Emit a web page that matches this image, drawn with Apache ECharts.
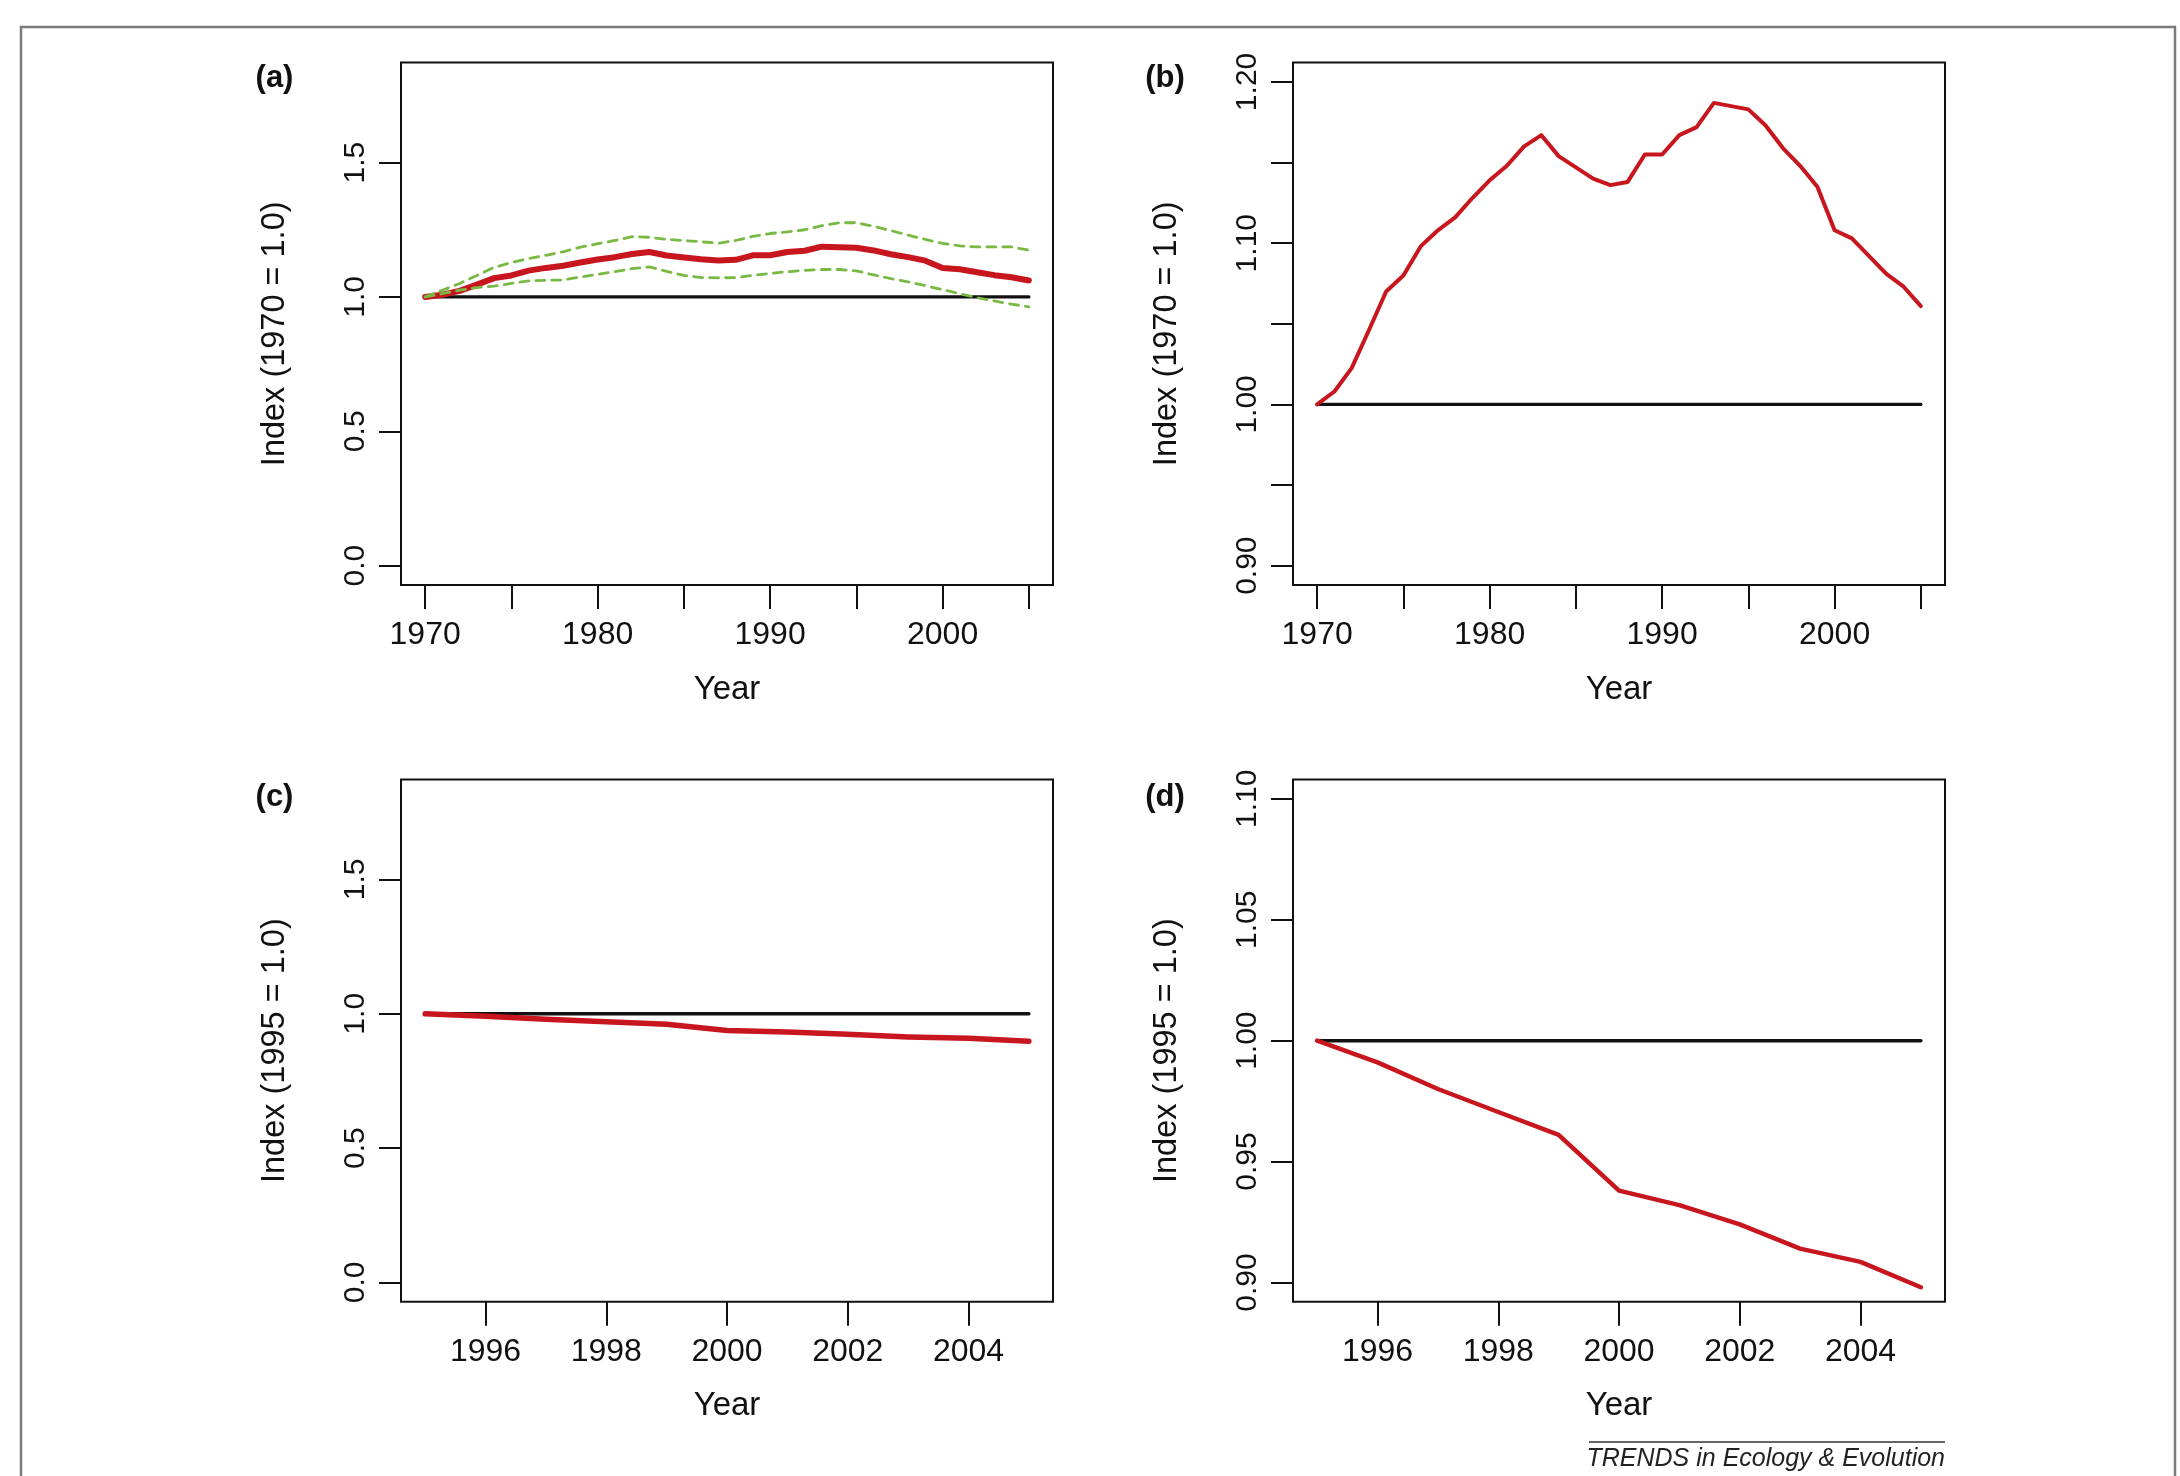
<!DOCTYPE html>
<html><head><meta charset="utf-8">
<script src="https://cdn.jsdelivr.net/npm/echarts@6/dist/echarts.min.js"></script>
<style>html,body{margin:0;padding:0;background:#fff}#c{width:2180px;height:1476px}</style>
</head><body><div id="c"></div>
<script>
// ---------------- data ----------------
const yearsLong = [1970,1971,1972,1973,1974,1975,1976,1977,1978,1979,1980,1981,1982,1983,1984,1985,1986,1987,1988,1989,1990,1991,1992,1993,1994,1995,1996,1997,1998,1999,2000,2001,2002,2003,2004,2005];
const indexLong = [1.000,1.008,1.0225,1.046,1.070,1.080,1.098,1.108,1.116,1.128,1.139,1.148,1.160,1.167,1.154,1.147,1.140,1.136,1.138,1.155,1.155,1.167,1.172,1.187,1.185,1.183,1.173,1.159,1.148,1.135,1.108,1.103,1.092,1.081,1.073,1.061];
const upperLong = [1.000,1.025,1.050,1.080,1.110,1.128,1.143,1.155,1.168,1.185,1.198,1.210,1.224,1.222,1.214,1.210,1.205,1.200,1.210,1.225,1.236,1.242,1.250,1.265,1.276,1.276,1.263,1.247,1.230,1.214,1.199,1.190,1.186,1.186,1.186,1.174];
const lowerLong = [1.000,1.012,1.025,1.035,1.040,1.050,1.060,1.062,1.063,1.074,1.084,1.094,1.105,1.112,1.095,1.080,1.072,1.071,1.072,1.080,1.087,1.094,1.099,1.102,1.102,1.097,1.082,1.068,1.056,1.042,1.027,1.012,0.997,0.985,0.973,0.963];
const yearsShort = [1995,1996,1997,1998,1999,2000,2001,2002,2003,2004,2005];
const indexShort = [1.000,0.991,0.980,0.9705,0.961,0.938,0.932,0.924,0.914,0.9085,0.898];
const baseline = 1.0;

// tick labels
const xTicksLong = [1970,1975,1980,1985,1990,1995,2000,2005];
const xLabelsLong = [1970,1980,1990,2000];
const xTicksShort = [1996,1998,2000,2002,2004];
const yTicksFull = [0.0,0.5,1.0,1.5];
const yTicksB = [0.90,0.95,1.00,1.05,1.10,1.15,1.20];
const yLabelsB = [0.90,1.00,1.10,1.20];
const yTicksD = [0.90,0.95,1.00,1.05,1.10];

// texts
const panelLabels = ['(a)','(b)','(c)','(d)'];
const yTitles = ['Index (1970 = 1.0)','Index (1970 = 1.0)','Index (1995 = 1.0)','Index (1995 = 1.0)'];
const xTitle = 'Year';
const credit = 'TRENDS in Ecology & Evolution';

// ---------------- styling / layout ----------------
const FONT = "'Liberation Sans', Arial, Helvetica, sans-serif";
const RED = '#c8161e', GREEN = '#78b943', BLACK = '#111';
const grids = [
  {left:401, top:62.6, width:652, height:522.4},
  {left:1293, top:62.6, width:652, height:522.4},
  {left:401, top:779.5, width:652, height:522.3},
  {left:1293, top:779.5, width:652, height:522.3}
];
const xRanges = [[1968.6,2006.4],[1968.6,2006.4],[1994.6,2005.4],[1994.6,2005.4]];
const yRanges = [[-0.072,1.872],[0.888,1.212],[-0.072,1.872],[0.892,1.108]];
const xTickSets = [xTicksLong,xTicksLong,xTicksShort,xTicksShort];
const xLabelSets = [xLabelsLong,xLabelsLong,xTicksShort,xTicksShort];
const yTickSets = [yTicksFull,yTicksB,yTicksFull,yTicksD];
const yLabelSets = [yTicksFull,yLabelsB,yTicksFull,yTicksD];
const yDigits = [1,2,1,2];

const xAxes = [], yAxes = [], series = [];
for (let i = 0; i < 4; i++) {
  xAxes.push({
    type:'value', gridIndex:i, min:xRanges[i][0], max:xRanges[i][1],
    axisLine:{show:false, onZero:false}, splitLine:{show:false},
    axisTick:{show:true, inside:false, length:24, customValues:xTickSets[i], lineStyle:{color:BLACK,width:2}},
    axisLabel:{show:true, margin:34, customValues:xLabelSets[i], color:BLACK, fontFamily:FONT, fontSize:32, formatter:v=>String(Math.round(v))},
    name:xTitle, nameLocation:'middle', nameGap:88,
    nameTextStyle:{color:BLACK, fontFamily:FONT, fontSize:33}
  });
  const d = yDigits[i];
  yAxes.push({
    type:'value', gridIndex:i, min:yRanges[i][0], max:yRanges[i][1],
    axisLine:{show:false, onZero:false}, splitLine:{show:false},
    axisTick:{show:true, inside:false, length:22, customValues:yTickSets[i], lineStyle:{color:BLACK,width:2}},
    axisLabel:{show:true, rotate:90, margin:30, customValues:yLabelSets[i], color:BLACK, fontFamily:FONT, fontSize:30, formatter:v=>Number(v).toFixed(d)},
    name:yTitles[i], nameLocation:'middle', nameRotate:90, nameGap:109,
    nameTextStyle:{color:BLACK, fontFamily:FONT, fontSize:32.5, padding:[0,20,0,0]}
  });
}

function lineSeries(i, xs, ys, color, width, type) {
  return {
    type:'line', xAxisIndex:i, yAxisIndex:i, data:xs.map((x,k)=>[x,ys[k]]),
    showSymbol:false, symbol:'none', clip:false, silent:true, animation:false,
    lineStyle:{color:color, width:width, type:type||'solid', cap:'round', join:'round'}
  };
}
function baseSeries(i, xs, width) {
  return lineSeries(i, [xs[0], xs[xs.length-1]], [baseline, baseline], BLACK, width);
}
// (a)
series.push(baseSeries(0, yearsLong, 3.3));
series.push(lineSeries(0, yearsLong, indexLong, RED, 6));
series.push(lineSeries(0, yearsLong, upperLong, GREEN, 2.8, [9,7]));
series.push(lineSeries(0, yearsLong, lowerLong, GREEN, 2.8, [9,7]));
// (b)
series.push(baseSeries(1, yearsLong, 3.3));
series.push(lineSeries(1, yearsLong, indexLong, RED, 4));
// (c)
series.push(baseSeries(2, yearsShort, 3.5));
series.push(lineSeries(2, yearsShort, indexShort, RED, 5.5));
// (d)
series.push(baseSeries(3, yearsShort, 3.5));
series.push(lineSeries(3, yearsShort, indexShort, RED, 4.5));

const labelPos = [[274.5,78],[1165,78],[274.5,797],[1165,797]];
const graphic = [
  {type:'rect', shape:{x:21, y:27, width:2154, height:1500}, style:{fill:'none', stroke:'#7a7a7a', lineWidth:2.5}, silent:true}
];
panelLabels.forEach((t,i)=>{
  graphic.push({type:'text', x:labelPos[i][0], y:labelPos[i][1], style:{text:t, fill:BLACK, font:'bold 31px '+FONT, align:'center', verticalAlign:'middle', textAlign:'center', textVerticalAlign:'middle'}});
});
graphic.push({type:'line', shape:{x1:1589, y1:1442, x2:1945, y2:1442}, style:{stroke:'#333', lineWidth:1.5}});
graphic.push({type:'text', x:1945, y:1459, style:{text:credit, fill:'#222', font:'italic 25px '+FONT, align:'right', verticalAlign:'middle', textAlign:'right', textVerticalAlign:'middle'}});

const chart = echarts.init(document.getElementById('c'), null, {renderer:'canvas'});
chart.setOption({
  animation:false,
  backgroundColor:'#fff',
  grid: grids.map(g=>Object.assign({show:true, borderColor:BLACK, borderWidth:2, backgroundColor:'transparent', containLabel:false}, g)),
  xAxis:xAxes, yAxis:yAxes, series:series, graphic:graphic
});
</script></body></html>
